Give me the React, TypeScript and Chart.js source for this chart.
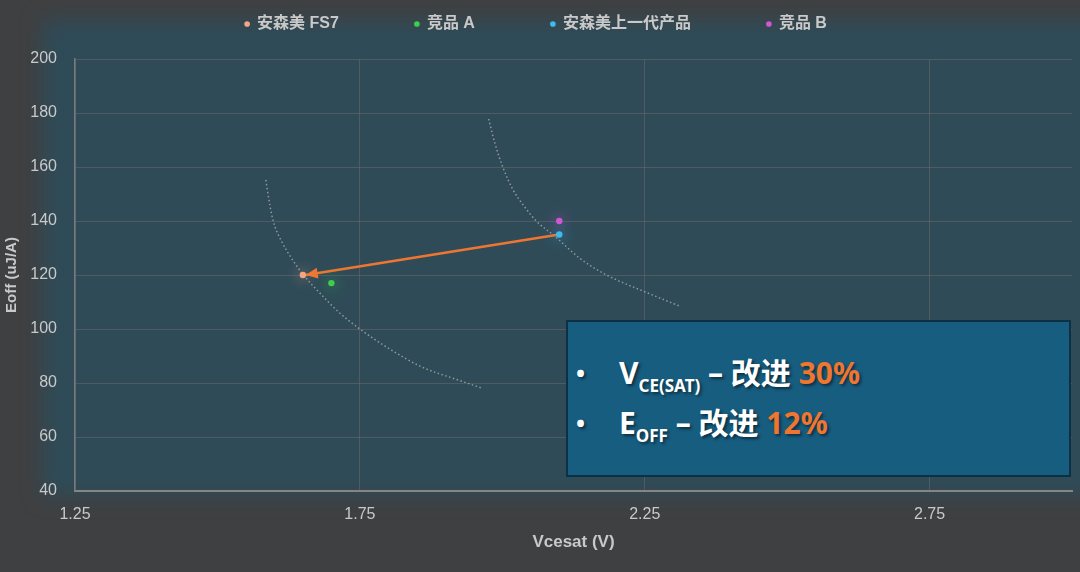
import { useEffect, useRef } from 'react'
import { Chart, registerables } from 'chart.js'

Chart.register(...registerables)

const seriesNames = ['安森美 FS7', '竞品 A', '安森美上一代产品', '竞品 B']
const seriesColors = ['#f3a584', '#3ccf4e', '#3dbbef', '#d355d3']
const vcesat = [1.65, 1.7, 2.1, 2.1]
const eoff = [120, 117, 135, 140]

// dotted trade-off curves
const fs7CurveX = [1.585, 1.592, 1.598, 1.613, 1.63, 1.651, 1.683, 1.712, 1.75, 1.8, 1.858, 1.917, 1.966]
const fs7CurveY = [155.2, 145.9, 139.9, 132.3, 126.2, 120, 112.6, 106.4, 100, 92.9, 86, 81.5, 78]
const prevCurveX = [1.976, 1.987, 2.001, 2.019, 2.039, 2.06, 2.092, 2.136, 2.183, 2.25, 2.311]
const prevCurveY = [177.8, 168.8, 159.9, 151.5, 145.3, 139.9, 134.4, 126.2, 120, 113.8, 108.5]

// arrow from previous generation to FS7
const arrowX = [2.1, 1.655]
const arrowY = [135, 120]

const xTicks = [1.25, 1.75, 2.25, 2.75]
const xMin = 1.25
const xMax = 3.0
const yMin = 40
const yMax = 200
const yStep = 20

const FONT = "'Liberation Sans', 'Noto Sans CJK SC', sans-serif"
const BOX_FONT = "'Noto Sans', 'Noto Sans CJK SC', sans-serif"
const ORANGE = '#ee7630'
const TEXT = '#c9c9c9'
const GRID = 'rgba(106, 106, 106, 0.55)'

const toPoints = (xs: number[], ys: number[]) => xs.map((x, i) => ({ x, y: ys[i] }))

const glowPlugin = {
  id: 'glow',
  beforeDatasetDraw(chart: any, args: any) {
    if (args.index >= seriesNames.length) return
    chart.ctx.save()
    chart.ctx.shadowColor = seriesColors[args.index]
    chart.ctx.shadowBlur = 14
  },
  afterDatasetDraw(chart: any, args: any) {
    if (args.index >= seriesNames.length) return
    chart.ctx.restore()
  }
}

const arrowHeadPlugin = {
  id: 'arrowHead',
  afterDatasetDraw(chart: any, args: any) {
    if (chart.data.datasets[args.index].label !== 'arrow') return
    const pts = args.meta.data
    const a = pts[pts.length - 2]
    const b = pts[pts.length - 1]
    const ang = Math.atan2(b.y - a.y, b.x - a.x)
    const ctx = chart.ctx
    ctx.save()
    ctx.translate(b.x, b.y)
    ctx.rotate(ang)
    ctx.beginPath()
    ctx.moveTo(0, 0)
    ctx.lineTo(-12, -5.5)
    ctx.lineTo(-12, 5.5)
    ctx.closePath()
    ctx.fillStyle = ORANGE
    ctx.fill()
    ctx.restore()
  }
}

// keep the legend row high above a fixed-height header
const legendPlacement = {
  id: 'legendPlacement',
  beforeLayout(chart: any) {
    const lg = chart.legend
    if (lg && !lg.__fixed) {
      const fit = lg.fit.bind(lg)
      lg.fit = () => {
        fit()
        lg.height = 59
      }
      lg.__fixed = true
    }
  },
  afterLayout(chart: any) {
    if (chart.legend) chart.legend.top = 16 - 76
  }
}

export default function App() {
  const canvasRef = useRef<HTMLCanvasElement>(null)

  useEffect(() => {
    document.body.style.margin = '0'
    if (!canvasRef.current) return

    const pointSets = seriesNames.map((name, i) => ({
      label: name,
      data: [{ x: vcesat[i], y: eoff[i] }],
      backgroundColor: seriesColors[i],
      borderColor: seriesColors[i],
      pointRadius: 3.2,
      pointBorderWidth: 0,
      order: 0
    }))

    const curveStyle = {
      showLine: true,
      borderColor: 'rgba(185, 185, 185, 0.7)',
      borderWidth: 1.5,
      borderDash: [1.5, 2.5],
      pointRadius: 0,
      cubicInterpolationMode: 'monotone',
      fill: false,
      order: 2
    }

    const chart = new Chart(canvasRef.current, {
      type: 'scatter',
      data: {
        datasets: [
          ...pointSets,
          { label: 'curve-fs7', data: toPoints(fs7CurveX, fs7CurveY), ...curveStyle },
          { label: 'curve-prev', data: toPoints(prevCurveX, prevCurveY), ...curveStyle },
          {
            label: 'arrow',
            data: toPoints(arrowX, arrowY),
            showLine: true,
            borderColor: ORANGE,
            borderWidth: 2.5,
            pointRadius: 0,
            order: 1
          }
        ] as any
      },
      options: {
        animation: false,
        responsive: true,
        maintainAspectRatio: false,
        events: [],
        layout: { padding: { left: 0, right: 8, top: 0, bottom: 0 } },
        plugins: {
          legend: {
            position: 'top',
            labels: {
              usePointStyle: true,
              pointStyle: 'circle',
              boxWidth: 4,
              boxHeight: 4,
              padding: 76,
              color: TEXT,
              font: { family: FONT, size: 16, weight: 'bold' },
              generateLabels: () =>
                seriesNames.map((text, i) => ({
                  text,
                  fillStyle: seriesColors[i],
                  strokeStyle: seriesColors[i],
                  lineWidth: 0,
                  pointStyle: 'circle',
                  datasetIndex: i,
                  hidden: false,
                  fontColor: TEXT
                }))
            }
          },
          tooltip: { enabled: false }
        },
        scales: {
          x: {
            type: 'linear',
            min: xMin,
            max: xMax,
            afterBuildTicks: (s: any) => {
              s.ticks = xTicks.map((v) => ({ value: v }))
            },
            afterFit: (s: any) => {
              s.height = 81
            },
            grid: { color: GRID, drawTicks: false },
            border: { color: '#858585', width: 2 },
            ticks: {
              padding: 14,
              color: TEXT,
              font: { family: FONT, size: 16 },
              callback: (v: any) => Number(v).toFixed(2)
            },
            title: {
              display: true,
              text: 'Vcesat (V)',
              color: TEXT,
              font: { family: FONT, size: 17, weight: 'bold' },
              padding: { top: 4, bottom: 19 }
            }
          },
          y: {
            min: yMin,
            max: yMax,
            afterFit: (s: any) => {
              s.width = 75
            },
            grid: { color: GRID, drawTicks: false },
            border: { color: 'rgba(130, 130, 130, 0.85)', width: 1.5 },
            ticks: {
              stepSize: yStep,
              padding: 18,
              color: TEXT,
              font: { family: FONT, size: 16 }
            },
            title: {
              display: true,
              text: 'Eoff (uJ/A)',
              color: TEXT,
              font: { family: FONT, size: 15, weight: 'bold' },
              padding: { top: 3, bottom: 0 }
            }
          }
        }
      },
      plugins: [glowPlugin, arrowHeadPlugin, legendPlacement]
    })

    return () => chart.destroy()
  }, [])

  const bullet: any = { position: 'absolute', left: -43, top: 0, fontSize: 24 }
  const sub: any = { fontSize: 17, verticalAlign: '-8px', lineHeight: 0 }

  return (
    <div style={{ position: 'relative', width: 1080, height: 572, background: '#3f4041', overflow: 'hidden' }}>
      <div
        style={{
          position: 'absolute',
          left: 42,
          top: 20,
          width: 1100,
          height: 476,
          background: '#2f4b58',
          filter: 'blur(10px)'
        }}
      />
      <div style={{ position: 'absolute', left: 0, top: 0, width: 1080, height: 572 }}>
        <canvas ref={canvasRef} />
      </div>
      <div
        style={{
          position: 'absolute',
          left: 566,
          top: 320,
          width: 505,
          height: 157,
          boxSizing: 'border-box',
          border: '2px solid #0c3144',
          background: '#175d80',
          color: '#ffffff',
          fontFamily: BOX_FONT,
          fontWeight: 700,
          fontSize: 30,
          lineHeight: '50px',
          paddingTop: 26,
          paddingLeft: 51,
          whiteSpace: 'nowrap',
          textShadow: '2px 2px 3px rgba(0, 0, 0, 0.5)'
        }}
      >
        <div style={{ position: 'relative' }}>
          <span style={bullet}>•</span>V<span style={sub}>CE(SAT)</span> – 改进{' '}
          <span style={{ color: ORANGE }}>30%</span>
        </div>
        <div style={{ position: 'relative' }}>
          <span style={bullet}>•</span>E<span style={sub}>OFF</span> – 改进{' '}
          <span style={{ color: ORANGE }}>12%</span>
        </div>
      </div>
    </div>
  )
}
